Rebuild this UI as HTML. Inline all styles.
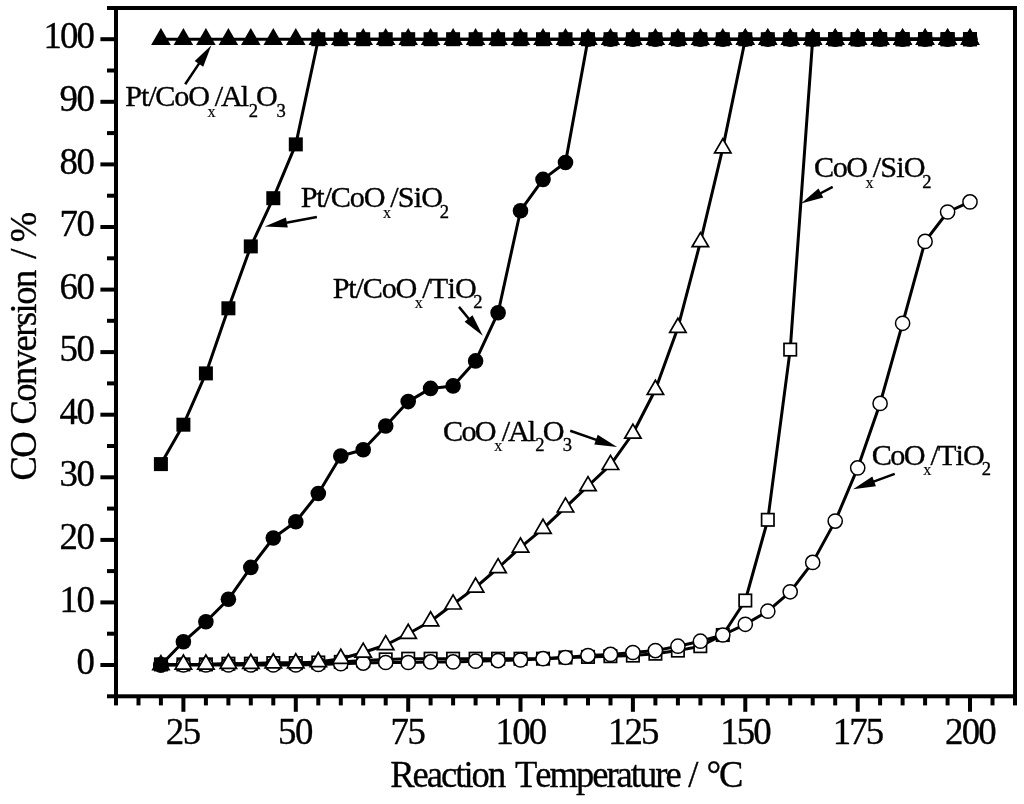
<!DOCTYPE html>
<html><head><meta charset="utf-8"><title>CO Conversion vs Reaction Temperature</title>
<style>html,body{margin:0;padding:0;background:#fff}svg{display:block}text{font-family:"Liberation Serif",serif;fill:#000;stroke:#000;stroke-width:0.35px;stroke-linejoin:round;font-kerning:none;font-variant-ligatures:none}</style>
</head><body>
<svg width="1024" height="804" viewBox="0 0 1024 804">
<rect width="1024" height="804" fill="#fff"/>
<g>
<polyline points="160.9,664.4 183.4,664.4 205.9,664.4 228.4,663.7 250.8,663.7 273.3,663.1 295.8,663.1 318.3,662.5 340.8,661.9 363.2,660.6 385.7,659.4 408.2,658.7 430.6,658.7 453.1,658.7 475.6,658.7 498.1,658.7 520.5,658.7 543.0,658.7 565.5,657.5 588.0,656.9 610.5,656.2 632.9,655.6 655.4,653.7 677.9,650.6 700.4,646.2 722.8,635.0 745.3,600.5 767.8,519.8 790.2,349.6 812.7,39.2 835.2,39.2 857.7,39.2 880.1,39.2 902.6,39.2 925.1,39.2 947.6,39.2 970.0,39.2" fill="none" stroke="#000" stroke-width="3.0" stroke-linejoin="round"/>
<rect x="154.8" y="658.2" width="12.4" height="12.4" fill="#fff" stroke="#000" stroke-width="1.7"/>
<rect x="177.2" y="658.2" width="12.4" height="12.4" fill="#fff" stroke="#000" stroke-width="1.7"/>
<rect x="199.7" y="658.2" width="12.4" height="12.4" fill="#fff" stroke="#000" stroke-width="1.7"/>
<rect x="222.2" y="657.5" width="12.4" height="12.4" fill="#fff" stroke="#000" stroke-width="1.7"/>
<rect x="244.7" y="657.5" width="12.4" height="12.4" fill="#fff" stroke="#000" stroke-width="1.7"/>
<rect x="267.1" y="656.9" width="12.4" height="12.4" fill="#fff" stroke="#000" stroke-width="1.7"/>
<rect x="289.6" y="656.9" width="12.4" height="12.4" fill="#fff" stroke="#000" stroke-width="1.7"/>
<rect x="312.1" y="656.3" width="12.4" height="12.4" fill="#fff" stroke="#000" stroke-width="1.7"/>
<rect x="334.6" y="655.7" width="12.4" height="12.4" fill="#fff" stroke="#000" stroke-width="1.7"/>
<rect x="357.0" y="654.4" width="12.4" height="12.4" fill="#fff" stroke="#000" stroke-width="1.7"/>
<rect x="379.5" y="653.2" width="12.4" height="12.4" fill="#fff" stroke="#000" stroke-width="1.7"/>
<rect x="402.0" y="652.5" width="12.4" height="12.4" fill="#fff" stroke="#000" stroke-width="1.7"/>
<rect x="424.4" y="652.5" width="12.4" height="12.4" fill="#fff" stroke="#000" stroke-width="1.7"/>
<rect x="446.9" y="652.5" width="12.4" height="12.4" fill="#fff" stroke="#000" stroke-width="1.7"/>
<rect x="469.4" y="652.5" width="12.4" height="12.4" fill="#fff" stroke="#000" stroke-width="1.7"/>
<rect x="491.9" y="652.5" width="12.4" height="12.4" fill="#fff" stroke="#000" stroke-width="1.7"/>
<rect x="514.3" y="652.5" width="12.4" height="12.4" fill="#fff" stroke="#000" stroke-width="1.7"/>
<rect x="536.8" y="652.5" width="12.4" height="12.4" fill="#fff" stroke="#000" stroke-width="1.7"/>
<rect x="559.3" y="651.3" width="12.4" height="12.4" fill="#fff" stroke="#000" stroke-width="1.7"/>
<rect x="581.8" y="650.7" width="12.4" height="12.4" fill="#fff" stroke="#000" stroke-width="1.7"/>
<rect x="604.2" y="650.0" width="12.4" height="12.4" fill="#fff" stroke="#000" stroke-width="1.7"/>
<rect x="626.7" y="649.4" width="12.4" height="12.4" fill="#fff" stroke="#000" stroke-width="1.7"/>
<rect x="649.2" y="647.5" width="12.4" height="12.4" fill="#fff" stroke="#000" stroke-width="1.7"/>
<rect x="671.7" y="644.4" width="12.4" height="12.4" fill="#fff" stroke="#000" stroke-width="1.7"/>
<rect x="694.1" y="640.0" width="12.4" height="12.4" fill="#fff" stroke="#000" stroke-width="1.7"/>
<rect x="716.6" y="628.8" width="12.4" height="12.4" fill="#fff" stroke="#000" stroke-width="1.7"/>
<rect x="739.1" y="594.3" width="12.4" height="12.4" fill="#fff" stroke="#000" stroke-width="1.7"/>
<rect x="761.6" y="513.6" width="12.4" height="12.4" fill="#fff" stroke="#000" stroke-width="1.7"/>
<rect x="784.0" y="343.4" width="12.4" height="12.4" fill="#fff" stroke="#000" stroke-width="1.7"/>
<rect x="806.5" y="33.0" width="12.4" height="12.4" fill="#fff" stroke="#000" stroke-width="1.7"/>
<rect x="829.0" y="33.0" width="12.4" height="12.4" fill="#fff" stroke="#000" stroke-width="1.7"/>
<rect x="851.5" y="33.0" width="12.4" height="12.4" fill="#fff" stroke="#000" stroke-width="1.7"/>
<rect x="873.9" y="33.0" width="12.4" height="12.4" fill="#fff" stroke="#000" stroke-width="1.7"/>
<rect x="896.4" y="33.0" width="12.4" height="12.4" fill="#fff" stroke="#000" stroke-width="1.7"/>
<rect x="918.9" y="33.0" width="12.4" height="12.4" fill="#fff" stroke="#000" stroke-width="1.7"/>
<rect x="941.4" y="33.0" width="12.4" height="12.4" fill="#fff" stroke="#000" stroke-width="1.7"/>
<rect x="963.8" y="33.0" width="12.4" height="12.4" fill="#fff" stroke="#000" stroke-width="1.7"/>
<polyline points="160.9,665.0 183.4,665.0 205.9,665.0 228.4,665.0 250.8,665.0 273.3,665.0 295.8,665.0 318.3,664.4 340.8,663.7 363.2,663.1 385.7,662.5 408.2,662.5 430.6,661.9 453.1,661.9 475.6,661.2 498.1,660.6 520.5,660.0 543.0,658.7 565.5,657.5 588.0,655.6 610.5,654.4 632.9,652.5 655.4,650.6 677.9,646.2 700.4,641.2 722.8,635.0 745.3,624.3 767.8,611.2 790.2,591.8 812.7,562.4 835.2,521.1 857.7,467.9 880.1,403.4 902.6,323.3 925.1,241.4 947.6,212.0 970.0,201.9" fill="none" stroke="#000" stroke-width="3.0" stroke-linejoin="round"/>
<circle cx="160.9" cy="665.0" r="7.1" fill="#fff" stroke="#000" stroke-width="1.5"/>
<circle cx="183.4" cy="665.0" r="7.1" fill="#fff" stroke="#000" stroke-width="1.5"/>
<circle cx="205.9" cy="665.0" r="7.1" fill="#fff" stroke="#000" stroke-width="1.5"/>
<circle cx="228.4" cy="665.0" r="7.1" fill="#fff" stroke="#000" stroke-width="1.5"/>
<circle cx="250.8" cy="665.0" r="7.1" fill="#fff" stroke="#000" stroke-width="1.5"/>
<circle cx="273.3" cy="665.0" r="7.1" fill="#fff" stroke="#000" stroke-width="1.5"/>
<circle cx="295.8" cy="665.0" r="7.1" fill="#fff" stroke="#000" stroke-width="1.5"/>
<circle cx="318.3" cy="664.4" r="7.1" fill="#fff" stroke="#000" stroke-width="1.5"/>
<circle cx="340.8" cy="663.7" r="7.1" fill="#fff" stroke="#000" stroke-width="1.5"/>
<circle cx="363.2" cy="663.1" r="7.1" fill="#fff" stroke="#000" stroke-width="1.5"/>
<circle cx="385.7" cy="662.5" r="7.1" fill="#fff" stroke="#000" stroke-width="1.5"/>
<circle cx="408.2" cy="662.5" r="7.1" fill="#fff" stroke="#000" stroke-width="1.5"/>
<circle cx="430.6" cy="661.9" r="7.1" fill="#fff" stroke="#000" stroke-width="1.5"/>
<circle cx="453.1" cy="661.9" r="7.1" fill="#fff" stroke="#000" stroke-width="1.5"/>
<circle cx="475.6" cy="661.2" r="7.1" fill="#fff" stroke="#000" stroke-width="1.5"/>
<circle cx="498.1" cy="660.6" r="7.1" fill="#fff" stroke="#000" stroke-width="1.5"/>
<circle cx="520.5" cy="660.0" r="7.1" fill="#fff" stroke="#000" stroke-width="1.5"/>
<circle cx="543.0" cy="658.7" r="7.1" fill="#fff" stroke="#000" stroke-width="1.5"/>
<circle cx="565.5" cy="657.5" r="7.1" fill="#fff" stroke="#000" stroke-width="1.5"/>
<circle cx="588.0" cy="655.6" r="7.1" fill="#fff" stroke="#000" stroke-width="1.5"/>
<circle cx="610.5" cy="654.4" r="7.1" fill="#fff" stroke="#000" stroke-width="1.5"/>
<circle cx="632.9" cy="652.5" r="7.1" fill="#fff" stroke="#000" stroke-width="1.5"/>
<circle cx="655.4" cy="650.6" r="7.1" fill="#fff" stroke="#000" stroke-width="1.5"/>
<circle cx="677.9" cy="646.2" r="7.1" fill="#fff" stroke="#000" stroke-width="1.5"/>
<circle cx="700.4" cy="641.2" r="7.1" fill="#fff" stroke="#000" stroke-width="1.5"/>
<circle cx="722.8" cy="635.0" r="7.1" fill="#fff" stroke="#000" stroke-width="1.5"/>
<circle cx="745.3" cy="624.3" r="7.1" fill="#fff" stroke="#000" stroke-width="1.5"/>
<circle cx="767.8" cy="611.2" r="7.1" fill="#fff" stroke="#000" stroke-width="1.5"/>
<circle cx="790.2" cy="591.8" r="7.1" fill="#fff" stroke="#000" stroke-width="1.5"/>
<circle cx="812.7" cy="562.4" r="7.1" fill="#fff" stroke="#000" stroke-width="1.5"/>
<circle cx="835.2" cy="521.1" r="7.1" fill="#fff" stroke="#000" stroke-width="1.5"/>
<circle cx="857.7" cy="467.9" r="7.1" fill="#fff" stroke="#000" stroke-width="1.5"/>
<circle cx="880.1" cy="403.4" r="7.1" fill="#fff" stroke="#000" stroke-width="1.5"/>
<circle cx="902.6" cy="323.3" r="7.1" fill="#fff" stroke="#000" stroke-width="1.5"/>
<circle cx="925.1" cy="241.4" r="7.1" fill="#fff" stroke="#000" stroke-width="1.5"/>
<circle cx="947.6" cy="212.0" r="7.1" fill="#fff" stroke="#000" stroke-width="1.5"/>
<circle cx="970.0" cy="201.9" r="7.1" fill="#fff" stroke="#000" stroke-width="1.5"/>
<polyline points="160.9,665.0 183.4,664.4 205.9,664.4 228.4,663.7 250.8,663.7 273.3,663.1 295.8,663.1 318.3,661.9 340.8,658.7 363.2,652.5 385.7,645.0 408.2,633.7 430.6,621.2 453.1,604.3 475.6,587.4 498.1,568.0 520.5,547.4 543.0,528.6 565.5,507.3 588.0,486.0 610.5,464.8 632.9,433.5 655.4,389.7 677.9,327.7 700.4,242.0 722.8,148.1 745.3,39.2 767.8,39.2 790.2,39.2 812.7,39.2 835.2,39.2 857.7,39.2 880.1,39.2 902.6,39.2 925.1,39.2 947.6,39.2 970.0,39.2" fill="none" stroke="#000" stroke-width="3.0" stroke-linejoin="round"/>
<polygon points="160.9,655.6 152.8,669.7 169.1,669.7" fill="#fff" stroke="#000" stroke-width="1.7"/>
<polygon points="183.4,655.0 175.2,669.1 191.6,669.1" fill="#fff" stroke="#000" stroke-width="1.7"/>
<polygon points="205.9,655.0 197.7,669.1 214.1,669.1" fill="#fff" stroke="#000" stroke-width="1.7"/>
<polygon points="228.4,654.3 220.2,668.4 236.6,668.4" fill="#fff" stroke="#000" stroke-width="1.7"/>
<polygon points="250.8,654.3 242.7,668.4 259.1,668.4" fill="#fff" stroke="#000" stroke-width="1.7"/>
<polygon points="273.3,653.7 265.1,667.8 281.5,667.8" fill="#fff" stroke="#000" stroke-width="1.7"/>
<polygon points="295.8,653.7 287.6,667.8 304.0,667.8" fill="#fff" stroke="#000" stroke-width="1.7"/>
<polygon points="318.3,652.5 310.1,666.6 326.5,666.6" fill="#fff" stroke="#000" stroke-width="1.7"/>
<polygon points="340.8,649.3 332.6,663.4 348.9,663.4" fill="#fff" stroke="#000" stroke-width="1.7"/>
<polygon points="363.2,643.1 355.0,657.2 371.4,657.2" fill="#fff" stroke="#000" stroke-width="1.7"/>
<polygon points="385.7,635.6 377.5,649.7 393.9,649.7" fill="#fff" stroke="#000" stroke-width="1.7"/>
<polygon points="408.2,624.3 400.0,638.4 416.4,638.4" fill="#fff" stroke="#000" stroke-width="1.7"/>
<polygon points="430.6,611.8 422.4,625.9 438.8,625.9" fill="#fff" stroke="#000" stroke-width="1.7"/>
<polygon points="453.1,594.9 444.9,609.0 461.3,609.0" fill="#fff" stroke="#000" stroke-width="1.7"/>
<polygon points="475.6,578.0 467.4,592.1 483.8,592.1" fill="#fff" stroke="#000" stroke-width="1.7"/>
<polygon points="498.1,558.6 489.9,572.7 506.3,572.7" fill="#fff" stroke="#000" stroke-width="1.7"/>
<polygon points="520.5,538.0 512.3,552.1 528.8,552.1" fill="#fff" stroke="#000" stroke-width="1.7"/>
<polygon points="543.0,519.2 534.8,533.3 551.2,533.3" fill="#fff" stroke="#000" stroke-width="1.7"/>
<polygon points="565.5,497.9 557.3,512.0 573.7,512.0" fill="#fff" stroke="#000" stroke-width="1.7"/>
<polygon points="588.0,476.6 579.8,490.7 596.2,490.7" fill="#fff" stroke="#000" stroke-width="1.7"/>
<polygon points="610.5,455.4 602.2,469.5 618.7,469.5" fill="#fff" stroke="#000" stroke-width="1.7"/>
<polygon points="632.9,424.1 624.7,438.2 641.1,438.2" fill="#fff" stroke="#000" stroke-width="1.7"/>
<polygon points="655.4,380.3 647.2,394.4 663.6,394.4" fill="#fff" stroke="#000" stroke-width="1.7"/>
<polygon points="677.9,318.3 669.7,332.4 686.1,332.4" fill="#fff" stroke="#000" stroke-width="1.7"/>
<polygon points="700.4,232.6 692.1,246.7 708.6,246.7" fill="#fff" stroke="#000" stroke-width="1.7"/>
<polygon points="722.8,138.7 714.6,152.8 731.0,152.8" fill="#fff" stroke="#000" stroke-width="1.7"/>
<polygon points="745.3,29.9 737.1,44.0 753.5,44.0" fill="#fff" stroke="#000" stroke-width="1.7"/>
<polygon points="767.8,29.9 759.6,44.0 776.0,44.0" fill="#fff" stroke="#000" stroke-width="1.7"/>
<polygon points="790.2,29.9 782.0,44.0 798.5,44.0" fill="#fff" stroke="#000" stroke-width="1.7"/>
<polygon points="812.7,29.9 804.5,44.0 820.9,44.0" fill="#fff" stroke="#000" stroke-width="1.7"/>
<polygon points="835.2,29.9 827.0,44.0 843.4,44.0" fill="#fff" stroke="#000" stroke-width="1.7"/>
<polygon points="857.7,29.9 849.5,44.0 865.9,44.0" fill="#fff" stroke="#000" stroke-width="1.7"/>
<polygon points="880.1,29.9 871.9,44.0 888.4,44.0" fill="#fff" stroke="#000" stroke-width="1.7"/>
<polygon points="902.6,29.9 894.4,44.0 910.8,44.0" fill="#fff" stroke="#000" stroke-width="1.7"/>
<polygon points="925.1,29.9 916.9,44.0 933.3,44.0" fill="#fff" stroke="#000" stroke-width="1.7"/>
<polygon points="947.6,29.9 939.4,44.0 955.8,44.0" fill="#fff" stroke="#000" stroke-width="1.7"/>
<polygon points="970.0,29.9 961.8,44.0 978.2,44.0" fill="#fff" stroke="#000" stroke-width="1.7"/>
<polyline points="160.9,665.0 183.4,641.8 205.9,621.8 228.4,599.3 250.8,567.4 273.3,538.0 295.8,521.7 318.3,493.5 340.8,456.0 363.2,449.7 385.7,426.0 408.2,401.6 430.6,388.4 453.1,385.9 475.6,360.9 498.1,312.7 520.5,210.7 543.0,179.4 565.5,162.5 588.0,39.2 610.5,39.2 632.9,39.2 655.4,39.2 677.9,39.2 700.4,39.2 722.8,39.2 745.3,39.2 767.8,39.2 790.2,39.2 812.7,39.2 835.2,39.2 857.7,39.2 880.1,39.2 902.6,39.2 925.1,39.2 947.6,39.2 970.0,39.2" fill="none" stroke="#000" stroke-width="3.0" stroke-linejoin="round"/>
<circle cx="160.9" cy="665.0" r="7.8" fill="#000"/>
<circle cx="183.4" cy="641.8" r="7.8" fill="#000"/>
<circle cx="205.9" cy="621.8" r="7.8" fill="#000"/>
<circle cx="228.4" cy="599.3" r="7.8" fill="#000"/>
<circle cx="250.8" cy="567.4" r="7.8" fill="#000"/>
<circle cx="273.3" cy="538.0" r="7.8" fill="#000"/>
<circle cx="295.8" cy="521.7" r="7.8" fill="#000"/>
<circle cx="318.3" cy="493.5" r="7.8" fill="#000"/>
<circle cx="340.8" cy="456.0" r="7.8" fill="#000"/>
<circle cx="363.2" cy="449.7" r="7.8" fill="#000"/>
<circle cx="385.7" cy="426.0" r="7.8" fill="#000"/>
<circle cx="408.2" cy="401.6" r="7.8" fill="#000"/>
<circle cx="430.6" cy="388.4" r="7.8" fill="#000"/>
<circle cx="453.1" cy="385.9" r="7.8" fill="#000"/>
<circle cx="475.6" cy="360.9" r="7.8" fill="#000"/>
<circle cx="498.1" cy="312.7" r="7.8" fill="#000"/>
<circle cx="520.5" cy="210.7" r="7.8" fill="#000"/>
<circle cx="543.0" cy="179.4" r="7.8" fill="#000"/>
<circle cx="565.5" cy="162.5" r="7.8" fill="#000"/>
<circle cx="588.0" cy="39.2" r="7.8" fill="#000"/>
<circle cx="610.5" cy="39.2" r="7.8" fill="#000"/>
<circle cx="632.9" cy="39.2" r="7.8" fill="#000"/>
<circle cx="655.4" cy="39.2" r="7.8" fill="#000"/>
<circle cx="677.9" cy="39.2" r="7.8" fill="#000"/>
<circle cx="700.4" cy="39.2" r="7.8" fill="#000"/>
<circle cx="722.8" cy="39.2" r="7.8" fill="#000"/>
<circle cx="745.3" cy="39.2" r="7.8" fill="#000"/>
<circle cx="767.8" cy="39.2" r="7.8" fill="#000"/>
<circle cx="790.2" cy="39.2" r="7.8" fill="#000"/>
<circle cx="812.7" cy="39.2" r="7.8" fill="#000"/>
<circle cx="835.2" cy="39.2" r="7.8" fill="#000"/>
<circle cx="857.7" cy="39.2" r="7.8" fill="#000"/>
<circle cx="880.1" cy="39.2" r="7.8" fill="#000"/>
<circle cx="902.6" cy="39.2" r="7.8" fill="#000"/>
<circle cx="925.1" cy="39.2" r="7.8" fill="#000"/>
<circle cx="947.6" cy="39.2" r="7.8" fill="#000"/>
<circle cx="970.0" cy="39.2" r="7.8" fill="#000"/>
<polyline points="160.9,464.1 183.4,424.7 205.9,373.4 228.4,308.3 250.8,246.4 273.3,198.2 295.8,144.4 318.3,39.2 340.8,39.2 363.2,39.2 385.7,39.2 408.2,39.2 430.6,39.2 453.1,39.2 475.6,39.2 498.1,39.2 520.5,39.2 543.0,39.2 565.5,39.2 588.0,39.2 610.5,39.2 632.9,39.2 655.4,39.2 677.9,39.2 700.4,39.2 722.8,39.2 745.3,39.2 767.8,39.2 790.2,39.2 812.7,39.2 835.2,39.2 857.7,39.2 880.1,39.2 902.6,39.2 925.1,39.2 947.6,39.2 970.0,39.2" fill="none" stroke="#000" stroke-width="3.0" stroke-linejoin="round"/>
<rect x="153.9" y="457.1" width="14.0" height="14.0" fill="#000"/>
<rect x="176.4" y="417.7" width="14.0" height="14.0" fill="#000"/>
<rect x="198.9" y="366.4" width="14.0" height="14.0" fill="#000"/>
<rect x="221.4" y="301.3" width="14.0" height="14.0" fill="#000"/>
<rect x="243.8" y="239.4" width="14.0" height="14.0" fill="#000"/>
<rect x="266.3" y="191.2" width="14.0" height="14.0" fill="#000"/>
<rect x="288.8" y="137.4" width="14.0" height="14.0" fill="#000"/>
<rect x="311.3" y="32.2" width="14.0" height="14.0" fill="#000"/>
<rect x="333.8" y="32.2" width="14.0" height="14.0" fill="#000"/>
<rect x="356.2" y="32.2" width="14.0" height="14.0" fill="#000"/>
<rect x="378.7" y="32.2" width="14.0" height="14.0" fill="#000"/>
<rect x="401.2" y="32.2" width="14.0" height="14.0" fill="#000"/>
<rect x="423.6" y="32.2" width="14.0" height="14.0" fill="#000"/>
<rect x="446.1" y="32.2" width="14.0" height="14.0" fill="#000"/>
<rect x="468.6" y="32.2" width="14.0" height="14.0" fill="#000"/>
<rect x="491.1" y="32.2" width="14.0" height="14.0" fill="#000"/>
<rect x="513.5" y="32.2" width="14.0" height="14.0" fill="#000"/>
<rect x="536.0" y="32.2" width="14.0" height="14.0" fill="#000"/>
<rect x="558.5" y="32.2" width="14.0" height="14.0" fill="#000"/>
<rect x="581.0" y="32.2" width="14.0" height="14.0" fill="#000"/>
<rect x="603.5" y="32.2" width="14.0" height="14.0" fill="#000"/>
<rect x="625.9" y="32.2" width="14.0" height="14.0" fill="#000"/>
<rect x="648.4" y="32.2" width="14.0" height="14.0" fill="#000"/>
<rect x="670.9" y="32.2" width="14.0" height="14.0" fill="#000"/>
<rect x="693.4" y="32.2" width="14.0" height="14.0" fill="#000"/>
<rect x="715.8" y="32.2" width="14.0" height="14.0" fill="#000"/>
<rect x="738.3" y="32.2" width="14.0" height="14.0" fill="#000"/>
<rect x="760.8" y="32.2" width="14.0" height="14.0" fill="#000"/>
<rect x="783.2" y="32.2" width="14.0" height="14.0" fill="#000"/>
<rect x="805.7" y="32.2" width="14.0" height="14.0" fill="#000"/>
<rect x="828.2" y="32.2" width="14.0" height="14.0" fill="#000"/>
<rect x="850.7" y="32.2" width="14.0" height="14.0" fill="#000"/>
<rect x="873.1" y="32.2" width="14.0" height="14.0" fill="#000"/>
<rect x="895.6" y="32.2" width="14.0" height="14.0" fill="#000"/>
<rect x="918.1" y="32.2" width="14.0" height="14.0" fill="#000"/>
<rect x="940.6" y="32.2" width="14.0" height="14.0" fill="#000"/>
<rect x="963.0" y="32.2" width="14.0" height="14.0" fill="#000"/>
<polyline points="160.9,39.2 183.4,39.2 205.9,39.2 228.4,39.2 250.8,39.2 273.3,39.2 295.8,39.2 318.3,39.2 340.8,39.2 363.2,39.2 385.7,39.2 408.2,39.2 430.6,39.2 453.1,39.2 475.6,39.2 498.1,39.2 520.5,39.2 543.0,39.2 565.5,39.2 588.0,39.2 610.5,39.2 632.9,39.2 655.4,39.2 677.9,39.2 700.4,39.2 722.8,39.2 745.3,39.2 767.8,39.2 790.2,39.2 812.7,39.2 835.2,39.2 857.7,39.2 880.1,39.2 902.6,39.2 925.1,39.2 947.6,39.2 970.0,39.2" fill="none" stroke="#000" stroke-width="3.0" stroke-linejoin="round"/>
<polygon points="160.9,27.9 151.1,45.0 170.8,45.0" fill="#000"/>
<polygon points="183.4,27.9 173.6,45.0 193.2,45.0" fill="#000"/>
<polygon points="205.9,27.9 196.1,45.0 215.7,45.0" fill="#000"/>
<polygon points="228.4,27.9 218.6,45.0 238.2,45.0" fill="#000"/>
<polygon points="250.8,27.9 241.0,45.0 260.6,45.0" fill="#000"/>
<polygon points="273.3,27.9 263.5,45.0 283.1,45.0" fill="#000"/>
<polygon points="295.8,27.9 286.0,45.0 305.6,45.0" fill="#000"/>
<polygon points="318.3,27.9 308.5,45.0 328.1,45.0" fill="#000"/>
<polygon points="340.8,27.9 330.9,45.0 350.6,45.0" fill="#000"/>
<polygon points="363.2,27.9 353.4,45.0 373.0,45.0" fill="#000"/>
<polygon points="385.7,27.9 375.9,45.0 395.5,45.0" fill="#000"/>
<polygon points="408.2,27.9 398.4,45.0 418.0,45.0" fill="#000"/>
<polygon points="430.6,27.9 420.8,45.0 440.4,45.0" fill="#000"/>
<polygon points="453.1,27.9 443.3,45.0 462.9,45.0" fill="#000"/>
<polygon points="475.6,27.9 465.8,45.0 485.4,45.0" fill="#000"/>
<polygon points="498.1,27.9 488.3,45.0 507.9,45.0" fill="#000"/>
<polygon points="520.5,27.9 510.7,45.0 530.3,45.0" fill="#000"/>
<polygon points="543.0,27.9 533.2,45.0 552.8,45.0" fill="#000"/>
<polygon points="565.5,27.9 555.7,45.0 575.3,45.0" fill="#000"/>
<polygon points="588.0,27.9 578.2,45.0 597.8,45.0" fill="#000"/>
<polygon points="610.5,27.9 600.7,45.0 620.2,45.0" fill="#000"/>
<polygon points="632.9,27.9 623.1,45.0 642.7,45.0" fill="#000"/>
<polygon points="655.4,27.9 645.6,45.0 665.2,45.0" fill="#000"/>
<polygon points="677.9,27.9 668.1,45.0 687.7,45.0" fill="#000"/>
<polygon points="700.4,27.9 690.6,45.0 710.1,45.0" fill="#000"/>
<polygon points="722.8,27.9 713.0,45.0 732.6,45.0" fill="#000"/>
<polygon points="745.3,27.9 735.5,45.0 755.1,45.0" fill="#000"/>
<polygon points="767.8,27.9 758.0,45.0 777.6,45.0" fill="#000"/>
<polygon points="790.2,27.9 780.5,45.0 800.0,45.0" fill="#000"/>
<polygon points="812.7,27.9 802.9,45.0 822.5,45.0" fill="#000"/>
<polygon points="835.2,27.9 825.4,45.0 845.0,45.0" fill="#000"/>
<polygon points="857.7,27.9 847.9,45.0 867.5,45.0" fill="#000"/>
<polygon points="880.1,27.9 870.4,45.0 889.9,45.0" fill="#000"/>
<polygon points="902.6,27.9 892.8,45.0 912.4,45.0" fill="#000"/>
<polygon points="925.1,27.9 915.3,45.0 934.9,45.0" fill="#000"/>
<polygon points="947.6,27.9 937.8,45.0 957.4,45.0" fill="#000"/>
<polygon points="970.0,27.9 960.2,45.0 979.8,45.0" fill="#000"/>
</g>
<g>
<rect x="116.0" y="8.0" width="899.0" height="688.3" fill="none" stroke="#000" stroke-width="4.0"/>
<line x1="107.0" y1="696.3" x2="116.0" y2="696.3" stroke="#000" stroke-width="4.0"/>
<line x1="100.4" y1="665.0" x2="116.0" y2="665.0" stroke="#000" stroke-width="4.0"/>
<line x1="107.0" y1="633.7" x2="116.0" y2="633.7" stroke="#000" stroke-width="4.0"/>
<line x1="100.4" y1="602.4" x2="116.0" y2="602.4" stroke="#000" stroke-width="4.0"/>
<line x1="107.0" y1="571.1" x2="116.0" y2="571.1" stroke="#000" stroke-width="4.0"/>
<line x1="100.4" y1="539.9" x2="116.0" y2="539.9" stroke="#000" stroke-width="4.0"/>
<line x1="107.0" y1="508.6" x2="116.0" y2="508.6" stroke="#000" stroke-width="4.0"/>
<line x1="100.4" y1="477.3" x2="116.0" y2="477.3" stroke="#000" stroke-width="4.0"/>
<line x1="107.0" y1="446.0" x2="116.0" y2="446.0" stroke="#000" stroke-width="4.0"/>
<line x1="100.4" y1="414.7" x2="116.0" y2="414.7" stroke="#000" stroke-width="4.0"/>
<line x1="107.0" y1="383.4" x2="116.0" y2="383.4" stroke="#000" stroke-width="4.0"/>
<line x1="100.4" y1="352.1" x2="116.0" y2="352.1" stroke="#000" stroke-width="4.0"/>
<line x1="107.0" y1="320.8" x2="116.0" y2="320.8" stroke="#000" stroke-width="4.0"/>
<line x1="100.4" y1="289.6" x2="116.0" y2="289.6" stroke="#000" stroke-width="4.0"/>
<line x1="107.0" y1="258.3" x2="116.0" y2="258.3" stroke="#000" stroke-width="4.0"/>
<line x1="100.4" y1="227.0" x2="116.0" y2="227.0" stroke="#000" stroke-width="4.0"/>
<line x1="107.0" y1="195.7" x2="116.0" y2="195.7" stroke="#000" stroke-width="4.0"/>
<line x1="100.4" y1="164.4" x2="116.0" y2="164.4" stroke="#000" stroke-width="4.0"/>
<line x1="107.0" y1="133.1" x2="116.0" y2="133.1" stroke="#000" stroke-width="4.0"/>
<line x1="100.4" y1="101.8" x2="116.0" y2="101.8" stroke="#000" stroke-width="4.0"/>
<line x1="107.0" y1="70.5" x2="116.0" y2="70.5" stroke="#000" stroke-width="4.0"/>
<line x1="100.4" y1="39.2" x2="116.0" y2="39.2" stroke="#000" stroke-width="4.0"/>
<line x1="107.0" y1="8.0" x2="116.0" y2="8.0" stroke="#000" stroke-width="4.0"/>
<line x1="116.0" y1="696.3" x2="116.0" y2="705.4" stroke="#000" stroke-width="4.0"/>
<line x1="138.5" y1="696.3" x2="138.5" y2="705.4" stroke="#000" stroke-width="4.0"/>
<line x1="160.9" y1="696.3" x2="160.9" y2="705.4" stroke="#000" stroke-width="4.0"/>
<line x1="183.4" y1="696.3" x2="183.4" y2="711.8" stroke="#000" stroke-width="4.0"/>
<line x1="205.9" y1="696.3" x2="205.9" y2="705.4" stroke="#000" stroke-width="4.0"/>
<line x1="228.4" y1="696.3" x2="228.4" y2="705.4" stroke="#000" stroke-width="4.0"/>
<line x1="250.8" y1="696.3" x2="250.8" y2="705.4" stroke="#000" stroke-width="4.0"/>
<line x1="273.3" y1="696.3" x2="273.3" y2="705.4" stroke="#000" stroke-width="4.0"/>
<line x1="295.8" y1="696.3" x2="295.8" y2="711.8" stroke="#000" stroke-width="4.0"/>
<line x1="318.3" y1="696.3" x2="318.3" y2="705.4" stroke="#000" stroke-width="4.0"/>
<line x1="340.8" y1="696.3" x2="340.8" y2="705.4" stroke="#000" stroke-width="4.0"/>
<line x1="363.2" y1="696.3" x2="363.2" y2="705.4" stroke="#000" stroke-width="4.0"/>
<line x1="385.7" y1="696.3" x2="385.7" y2="705.4" stroke="#000" stroke-width="4.0"/>
<line x1="408.2" y1="696.3" x2="408.2" y2="711.8" stroke="#000" stroke-width="4.0"/>
<line x1="430.6" y1="696.3" x2="430.6" y2="705.4" stroke="#000" stroke-width="4.0"/>
<line x1="453.1" y1="696.3" x2="453.1" y2="705.4" stroke="#000" stroke-width="4.0"/>
<line x1="475.6" y1="696.3" x2="475.6" y2="705.4" stroke="#000" stroke-width="4.0"/>
<line x1="498.1" y1="696.3" x2="498.1" y2="705.4" stroke="#000" stroke-width="4.0"/>
<line x1="520.5" y1="696.3" x2="520.5" y2="711.8" stroke="#000" stroke-width="4.0"/>
<line x1="543.0" y1="696.3" x2="543.0" y2="705.4" stroke="#000" stroke-width="4.0"/>
<line x1="565.5" y1="696.3" x2="565.5" y2="705.4" stroke="#000" stroke-width="4.0"/>
<line x1="588.0" y1="696.3" x2="588.0" y2="705.4" stroke="#000" stroke-width="4.0"/>
<line x1="610.5" y1="696.3" x2="610.5" y2="705.4" stroke="#000" stroke-width="4.0"/>
<line x1="632.9" y1="696.3" x2="632.9" y2="711.8" stroke="#000" stroke-width="4.0"/>
<line x1="655.4" y1="696.3" x2="655.4" y2="705.4" stroke="#000" stroke-width="4.0"/>
<line x1="677.9" y1="696.3" x2="677.9" y2="705.4" stroke="#000" stroke-width="4.0"/>
<line x1="700.4" y1="696.3" x2="700.4" y2="705.4" stroke="#000" stroke-width="4.0"/>
<line x1="722.8" y1="696.3" x2="722.8" y2="705.4" stroke="#000" stroke-width="4.0"/>
<line x1="745.3" y1="696.3" x2="745.3" y2="711.8" stroke="#000" stroke-width="4.0"/>
<line x1="767.8" y1="696.3" x2="767.8" y2="705.4" stroke="#000" stroke-width="4.0"/>
<line x1="790.2" y1="696.3" x2="790.2" y2="705.4" stroke="#000" stroke-width="4.0"/>
<line x1="812.7" y1="696.3" x2="812.7" y2="705.4" stroke="#000" stroke-width="4.0"/>
<line x1="835.2" y1="696.3" x2="835.2" y2="705.4" stroke="#000" stroke-width="4.0"/>
<line x1="857.7" y1="696.3" x2="857.7" y2="711.8" stroke="#000" stroke-width="4.0"/>
<line x1="880.1" y1="696.3" x2="880.1" y2="705.4" stroke="#000" stroke-width="4.0"/>
<line x1="902.6" y1="696.3" x2="902.6" y2="705.4" stroke="#000" stroke-width="4.0"/>
<line x1="925.1" y1="696.3" x2="925.1" y2="705.4" stroke="#000" stroke-width="4.0"/>
<line x1="947.6" y1="696.3" x2="947.6" y2="705.4" stroke="#000" stroke-width="4.0"/>
<line x1="970.0" y1="696.3" x2="970.0" y2="711.8" stroke="#000" stroke-width="4.0"/>
<line x1="992.5" y1="696.3" x2="992.5" y2="705.4" stroke="#000" stroke-width="4.0"/>
<line x1="1015.0" y1="696.3" x2="1015.0" y2="705.4" stroke="#000" stroke-width="4.0"/>
</g>
<g>
<text transform="translate(93.6,674.1) scale(0.950,1)" font-size="38.8" letter-spacing="-1.40" text-anchor="end" >0</text>
<text transform="translate(93.6,611.5) scale(0.950,1)" font-size="38.8" letter-spacing="-1.40" text-anchor="end" >10</text>
<text transform="translate(93.6,549.0) scale(0.950,1)" font-size="38.8" letter-spacing="-1.40" text-anchor="end" >20</text>
<text transform="translate(93.6,486.4) scale(0.950,1)" font-size="38.8" letter-spacing="-1.40" text-anchor="end" >30</text>
<text transform="translate(93.6,423.8) scale(0.950,1)" font-size="38.8" letter-spacing="-1.40" text-anchor="end" >40</text>
<text transform="translate(93.6,361.2) scale(0.950,1)" font-size="38.8" letter-spacing="-1.40" text-anchor="end" >50</text>
<text transform="translate(93.6,298.7) scale(0.950,1)" font-size="38.8" letter-spacing="-1.40" text-anchor="end" >60</text>
<text transform="translate(93.6,236.1) scale(0.950,1)" font-size="38.8" letter-spacing="-1.40" text-anchor="end" >70</text>
<text transform="translate(93.6,173.5) scale(0.950,1)" font-size="38.8" letter-spacing="-1.40" text-anchor="end" >80</text>
<text transform="translate(93.6,110.9) scale(0.950,1)" font-size="38.8" letter-spacing="-1.40" text-anchor="end" >90</text>
<text transform="translate(93.0,48.4) scale(0.950,1)" font-size="38.8" letter-spacing="-2.00" text-anchor="end" >100</text>
<text transform="translate(182.8,744.0) scale(0.950,1)" font-size="38.8" letter-spacing="-1.40" text-anchor="middle" >25</text>
<text transform="translate(295.1,744.0) scale(0.950,1)" font-size="38.8" letter-spacing="-1.40" text-anchor="middle" >50</text>
<text transform="translate(407.5,744.0) scale(0.950,1)" font-size="38.8" letter-spacing="-1.40" text-anchor="middle" >75</text>
<text transform="translate(520.4,744.0) scale(0.950,1)" font-size="38.8" letter-spacing="-2.00" text-anchor="middle" >100</text>
<text transform="translate(632.8,744.0) scale(0.950,1)" font-size="38.8" letter-spacing="-2.00" text-anchor="middle" >125</text>
<text transform="translate(745.1,744.0) scale(0.950,1)" font-size="38.8" letter-spacing="-2.00" text-anchor="middle" >150</text>
<text transform="translate(857.5,744.0) scale(0.950,1)" font-size="38.8" letter-spacing="-2.00" text-anchor="middle" >175</text>
<text transform="translate(969.9,744.0) scale(0.950,1)" font-size="38.8" letter-spacing="-2.00" text-anchor="middle" >200</text>
<text transform="translate(0,786.7) scale(0.950,1)" font-size="38.5" letter-spacing="-2.10"><tspan x="410.74">Reaction</tspan> <tspan x="542.00">Temperature</tspan> <tspan x="724.53">/</tspan> <tspan x="743.68">°C</tspan></text>
<text transform="translate(36.2,0) rotate(-90) scale(0.950,1)" font-size="38.5" letter-spacing="-1.60"><tspan x="-505.79">CO</tspan> <tspan x="-446.95">Conversion</tspan> <tspan x="-272.42">/</tspan> <tspan x="-254.95">%</tspan></text>
<g><text transform="translate(125.32,106.0) scale(1.000,1)" font-size="30.2" letter-spacing="-1.17">Pt/CoO</text><text transform="translate(207.61,116.5) scale(0.970,1)" font-size="16.8" letter-spacing="0.00" style="stroke-width:0.12px">x</text><text transform="translate(214.78,106.0) scale(1.000,1)" font-size="30.2" letter-spacing="-2.06">/Al</text><text transform="translate(248.64,116.5) scale(1.000,1)" font-size="18.6" letter-spacing="0.00">2</text><text transform="translate(256.07,106.0) scale(1.000,1)" font-size="30.2" letter-spacing="0.00">O</text><text transform="translate(276.39,116.5) scale(1.000,1)" font-size="18.6" letter-spacing="0.00">3</text></g>
<g><text transform="translate(300.67,207.4) scale(1.000,1)" font-size="30.2" letter-spacing="-1.16">Pt/CoO</text><text transform="translate(382.91,217.9) scale(0.970,1)" font-size="16.8" letter-spacing="0.00" style="stroke-width:0.12px">x</text><text transform="translate(390.18,207.4) scale(1.000,1)" font-size="30.2" letter-spacing="-0.79">/SiO</text><text transform="translate(439.84,217.9) scale(1.000,1)" font-size="18.6" letter-spacing="0.00">2</text></g>
<g><text transform="translate(332.67,297.8) scale(1.000,1)" font-size="30.2" letter-spacing="-1.18">Pt/CoO</text><text transform="translate(414.71,308.3) scale(0.970,1)" font-size="16.8" letter-spacing="0.00" style="stroke-width:0.12px">x</text><text transform="translate(422.18,297.8) scale(1.000,1)" font-size="30.2" letter-spacing="-0.81">/TiO</text><text transform="translate(473.24,308.3) scale(1.000,1)" font-size="18.6" letter-spacing="0.00">2</text></g>
<g><text transform="translate(443.02,440.9) scale(1.000,1)" font-size="30.2" letter-spacing="-1.69">CoO</text><text transform="translate(494.16,451.4) scale(0.970,1)" font-size="16.8" letter-spacing="0.00" style="stroke-width:0.12px">x</text><text transform="translate(501.68,440.9) scale(1.000,1)" font-size="30.2" letter-spacing="-2.09">/Al</text><text transform="translate(535.24,451.4) scale(1.000,1)" font-size="18.6" letter-spacing="0.00">2</text><text transform="translate(542.87,440.9) scale(1.000,1)" font-size="30.2" letter-spacing="0.00">O</text><text transform="translate(562.79,451.4) scale(1.000,1)" font-size="18.6" letter-spacing="0.00">3</text></g>
<g><text transform="translate(814.07,177.4) scale(1.000,1)" font-size="30.2" letter-spacing="-1.49">CoO</text><text transform="translate(865.46,187.9) scale(0.970,1)" font-size="16.8" letter-spacing="0.00" style="stroke-width:0.12px">x</text><text transform="translate(872.67,177.4) scale(1.000,1)" font-size="30.2" letter-spacing="-0.84">/SiO</text><text transform="translate(922.34,187.9) scale(1.000,1)" font-size="18.6" letter-spacing="0.00">2</text></g>
<g><text transform="translate(871.82,464.5) scale(1.000,1)" font-size="30.2" letter-spacing="-1.59">CoO</text><text transform="translate(923.16,475.0) scale(0.970,1)" font-size="16.8" letter-spacing="0.00" style="stroke-width:0.12px">x</text><text transform="translate(930.47,464.5) scale(1.000,1)" font-size="30.2" letter-spacing="-0.91">/TiO</text><text transform="translate(981.64,475.0) scale(1.000,1)" font-size="18.6" letter-spacing="0.00">2</text></g>
<line x1="185.2" y1="84.3" x2="200.0" y2="62.1" stroke="#000" stroke-width="2.5"/>
<polygon points="211.4,45.2 203.2,66.7 194.7,60.9" fill="#000"/>
<line x1="316.9" y1="217.0" x2="284.9" y2="222.9" stroke="#000" stroke-width="2.5"/>
<polygon points="264.8,226.6 285.9,217.5 287.8,227.6" fill="#000"/>
<line x1="459.0" y1="306.9" x2="469.8" y2="320.0" stroke="#000" stroke-width="2.5"/>
<polygon points="482.8,335.7 464.6,321.7 472.5,315.2" fill="#000"/>
<line x1="570.2" y1="430.7" x2="597.8" y2="440.4" stroke="#000" stroke-width="2.5"/>
<polygon points="617.1,447.1 594.3,444.6 597.7,434.8" fill="#000"/>
<line x1="832.7" y1="186.9" x2="819.2" y2="194.0" stroke="#000" stroke-width="2.5"/>
<polygon points="801.1,203.5 818.5,188.5 823.3,197.6" fill="#000"/>
<line x1="894.7" y1="473.9" x2="872.2" y2="482.2" stroke="#000" stroke-width="2.5"/>
<polygon points="853.1,489.2 872.3,476.6 875.9,486.3" fill="#000"/>
</g>
</svg>
</body></html>
